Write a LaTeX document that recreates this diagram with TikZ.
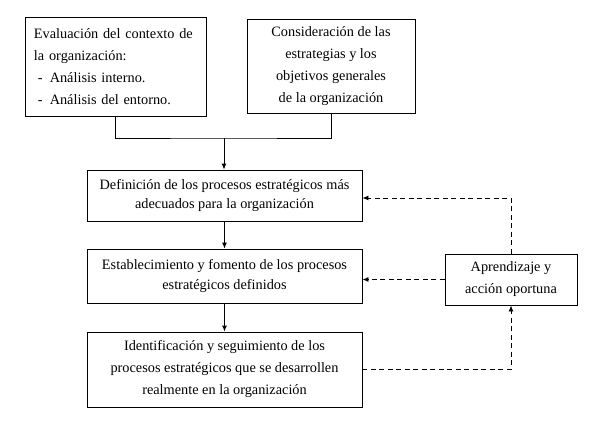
\documentclass[tikz,border=0pt]{standalone}
\usepackage{fontspec}
\setmainfont{Liberation Serif}
\usetikzlibrary{arrows.meta}
\begin{document}
\begin{tikzpicture}[x=1pt,y=-1pt,
  box/.style={draw,line width=0.9pt,align=center,inner sep=0pt,font=\fontsize{14.3}{22}\selectfont},
  arr/.style={-{Latex[length=6pt,width=5pt]}},
  dsh/.style={line width=0.9pt,dash pattern=on 5pt off 3.5pt},
  ln/.style={line width=0.9pt}]
\useasboundingbox (0,0) rectangle (600,424);
\node[box, minimum width=181pt, minimum height=99pt, text width=163pt, align=left] (b1) at (115.5,66.5)
  {Evaluación del contexto de\\ la organización:\\ \hspace*{4pt}-\hspace{7pt}Análisis interno.\\ \hspace*{4pt}-\hspace{7pt}Análisis del entorno.};
\node[box, minimum width=168pt, minimum height=94pt] (b2) at (331,66)
  {Consideración de las\\ estrategias y los\\ objetivos generales\\ de la organización};
\node[box, minimum width=275pt, minimum height=51pt, font=\fontsize{14.3}{19.5}\selectfont] (b3) at (224.5,195.5)
  {Definición de los procesos estratégicos más\\ adecuados para la organización};
\node[box, minimum width=275pt, minimum height=54pt, font=\fontsize{14.3}{19.5}\selectfont] (b4) at (224.5,276)
  {Establecimiento y fomento de los procesos\\ estratégicos definidos};
\node[box, minimum width=275pt, minimum height=75pt] (b5) at (224.5,369.5)
  {Identificación y seguimiento de los\\ procesos estratégicos que se desarrollen\\ realmente en la organización};
\node[box, minimum width=132pt, minimum height=51pt] (b6) at (511,279.5)
  {Aprendizaje y\\ acción oportuna};
\coordinate (j) at (224,138);
\draw[ln] (b1.south) |- (j) -| (b2.south);
\draw[ln,arr] (j) -- (j |- b3.north);
\draw[ln,arr] (b3) -- (b4);
\draw[ln,arr] (b4) -- (b5);
\draw[dsh,arr] (b6.north) |- ([yshift=-2.5pt]b3.east);
\draw[dsh,arr] (b6.west) -- (b6.west -| b4.east);
\draw[dsh,arr] (b5.east) -| (b6.south);
\end{tikzpicture}
\end{document}
